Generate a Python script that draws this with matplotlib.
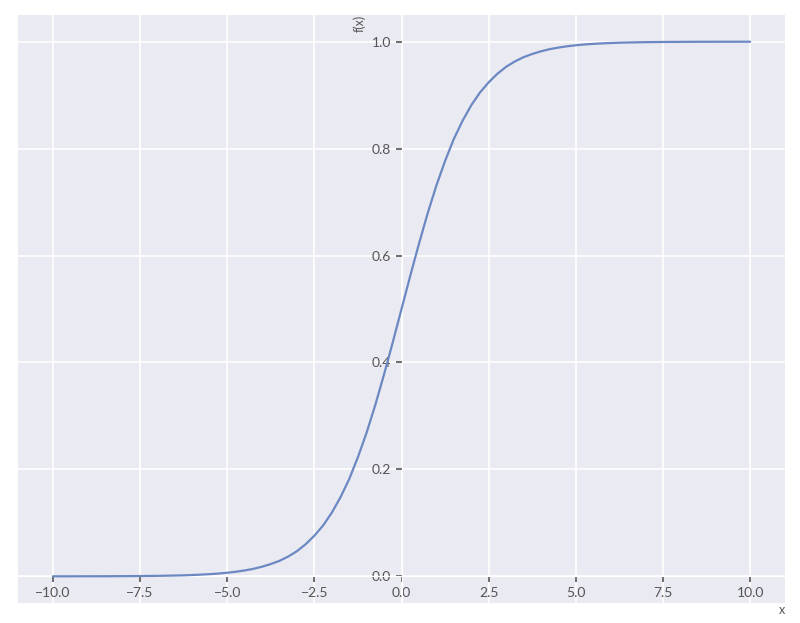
import matplotlib
matplotlib.use("Agg")
import matplotlib.pyplot as plt
import seaborn as sns

x_vals = [-10.0, -9.75, -9.5, -9.25, -9.0, -8.75, -8.5, -8.25, -8.0, -7.75,
          -7.5, -7.25, -7.0, -6.75, -6.5, -6.25, -6.0, -5.75, -5.5, -5.25,
          -5.0, -4.75, -4.5, -4.25, -4.0, -3.75, -3.5, -3.25, -3.0, -2.75,
          -2.5, -2.25, -2.0, -1.75, -1.5, -1.25, -1.0, -0.75, -0.5, -0.25,
          0.0,
          0.25, 0.5, 0.75, 1.0, 1.25, 1.5, 1.75, 2.0, 2.25, 2.5,
          2.75, 3.0, 3.25, 3.5, 3.75, 4.0, 4.25, 4.5, 4.75, 5.0,
          5.25, 5.5, 5.75, 6.0, 6.25, 6.5, 6.75, 7.0, 7.25, 7.5,
          7.75, 8.0, 8.25, 8.5, 8.75, 9.0, 9.25, 9.5, 9.75, 10.0]
f_vals = [0.00005, 0.00006, 0.00007, 0.0001, 0.00012, 0.00016, 0.0002, 0.00026, 0.00034, 0.00043,
          0.00055, 0.00071, 0.00091, 0.0012, 0.0015, 0.0019, 0.0025, 0.0032, 0.0041, 0.0052,
          0.0067, 0.0086, 0.011, 0.014, 0.018, 0.023, 0.029, 0.037, 0.047, 0.060,
          0.076, 0.095, 0.119, 0.148, 0.182, 0.223, 0.269, 0.321, 0.378, 0.438,
          0.500,
          0.562, 0.622, 0.679, 0.731, 0.777, 0.818, 0.852, 0.881, 0.905, 0.924,
          0.940, 0.953, 0.963, 0.971, 0.977, 0.982, 0.986, 0.989, 0.9914, 0.9933,
          0.9948, 0.9959, 0.9968, 0.9975, 0.9981, 0.9985, 0.9988, 0.99909, 0.99929, 0.99945,
          0.99957, 0.99966, 0.99974, 0.9998, 0.99984, 0.99988, 0.9999, 0.99993, 0.99994, 0.99995]
x_ticks = [-10.0, -7.5, -5.0, -2.5, 0.0, 2.5, 5.0, 7.5, 10.0]
y_ticks = [0.0, 0.2, 0.4, 0.6, 0.8, 1.0]

sns.set_style("darkgrid")
plt.rcParams['font.family'] = ['Lato', 'DejaVu Sans']

fig = plt.figure(figsize=(8.0, 6.23), dpi=100)
ax = fig.add_axes([0.0225, 0.032, 0.9588, 0.944])
ax.plot(x_vals, f_vals, color='#6c88c2', linewidth=1.6, zorder=3)
ax.grid(True, color='white', linewidth=1.2)

ax.spines['left'].set_position('zero')
ax.spines['bottom'].set_position('zero')
for s in ['right', 'top']:
    ax.spines[s].set_visible(False)
for s in ['left', 'bottom']:
    ax.spines[s].set_color('white')

ax.set_xticks(x_ticks)
ax.set_yticks(y_ticks)
ax.set_xticklabels([f"{t:.1f}".replace('-', '\u2212') for t in x_ticks])
ax.set_yticklabels([f"{t:.1f}" for t in y_ticks])
ax.tick_params(axis='both', bottom=True, left=True, length=4, width=1.2,
               color='#555555', labelcolor='#555555', labelsize=10, direction='out')
ax.set_xlim(-11, 11)
ax.set_ylim(-0.05, 1.05)
ax.set_xlabel('x', loc='right', color='#555555', fontsize=9)
ax.set_ylabel('f(x)', loc='top', color='#555555', fontsize=9)

fig.savefig('out.png', dpi=100)
